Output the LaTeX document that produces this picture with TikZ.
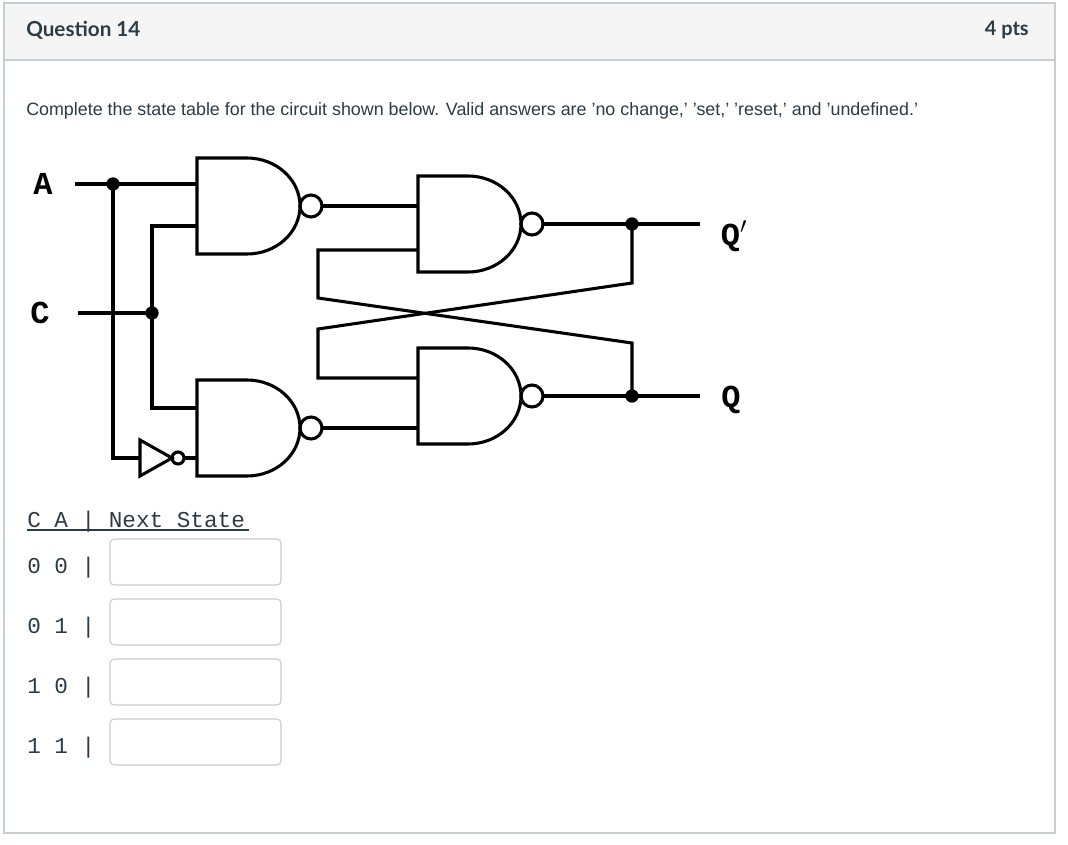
\documentclass[tikz,border=0pt]{standalone}
\usepackage{fontspec}
\setmainfont{Liberation Sans}
\newfontfamily\latofont{Lato}
\newfontfamily\monofont{Liberation Mono}
\definecolor{txt}{HTML}{2D3B45}
\definecolor{bord}{HTML}{C7CDD1}
\definecolor{band}{HTML}{F5F5F5}
\newcommand{\nandgate}[4]{% name, left, top, bottom
  \pgfmathsetmacro{\gm}{#2+50}\pgfmathsetmacro{\gt}{#2+103}%
  \pgfmathsetmacro{\gc}{(#3+#4)/2}\pgfmathsetmacro{\ry}{(#4-#3)/2}%
  \pgfmathsetmacro{\ka}{\gm+0.552*53}\pgfmathsetmacro{\kb}{\gc-0.552*\ry}\pgfmathsetmacro{\kc}{\gc+0.552*\ry}%
  \draw[wire] (#2,#3) -- (\gm,#3) .. controls (\ka,#3) and (\gt,\kb) .. (\gt,\gc)
     .. controls (\gt,\kc) and (\ka,#4) .. (\gm,#4) -- (#2,#4) -- cycle;
  \draw[wire] (\gt+11,\gc) circle[radius=8.25pt];
  \coordinate (#1) at (\gt+22,\gc);}
\begin{document}
\begin{tikzpicture}[x=0.75pt,y=-0.75pt,
  wire/.style={line width=2.3pt,line join=miter,black},
  jdot/.style={circle,fill=black,inner sep=0pt,minimum size=10pt},
  lbl/.style={font=\monofont\bfseries\fontsize{24}{24}\selectfont,inner sep=0pt},
  tbl/.style={font=\monofont\fontsize{17}{17}\selectfont,text=txt,inner sep=0pt,anchor=base west},
  ansbox/.style={draw=bord,rounded corners=3pt,line width=0.8pt}]
\useasboundingbox (0,0) rectangle (1068,845);
\fill[white] (0,0) rectangle (1068,845);
\fill[band] (4,3) rectangle (1055,60);
\draw[bord,line width=0.8pt] (4,3) rectangle (1055,833);
\draw[bord,line width=0.8pt] (4,60) -- (1055,60);
\node[anchor=west,inner sep=0pt,text=txt,font=\latofont\bfseries\fontsize{15.5}{16}\selectfont] (qt) at (26,30) {Question 14};
\node[anchor=east,inner sep=0pt,text=txt,font=\latofont\bfseries\fontsize{15}{16}\selectfont] (pts) at (1029,30) {4 pts};
\node[anchor=west,inner sep=0pt,text=txt,font=\fontsize{13.4}{16}\selectfont] (desc) at (26,111) {Complete the state table for the circuit shown below. Valid answers are 'no change,' 'set,' 'reset,' and 'undefined.'};
% gates
\nandgate{g1}{197}{158}{254}
\nandgate{g2}{418}{176}{272}
\nandgate{g3}{197}{380}{476}
\nandgate{g4}{418}{348}{444}
% labels
\node[lbl] (la) at (43,184) {A};
\node[lbl] (lc) at (40,313) {C};
\node[lbl] (lqp) at (734,236) {Q$'$};
\node[lbl] (lq) at (731,400) {Q};
% A input
\coordinate (ain) at (75,184);
\node[jdot] (da) at (113,184) {};
\draw[wire] (ain) -- (197,184);
\draw[wire] (da.center) -- (113,458) -- (140,458);
\draw[wire] (140,440) -- (140,476) -- (172,458) -- cycle;
\draw[wire] (178,458) circle[radius=4.5pt];
\draw[wire] (184,458) -- (197,458);
% C input
\coordinate (cin) at (78,313);
\node[jdot] (dc) at (152,313) {};
\draw[wire] (cin) -- (dc.center);
\draw[wire] (197,226) -- (152,226) -- (152,408) -- (197,408);
% between gates
\draw[wire] (g1) -- (418,206);
\draw[wire] (g3) -- (418,428);
% outputs
\node[jdot] (dqp) at (632,224) {};
\node[jdot] (dq) at (632,396) {};
\coordinate (oqp) at (700,224);
\coordinate (oq) at (700,396);
\draw[wire] (g2) -- (oqp);
\draw[wire] (g4) -- (oq);
% cross feedback
\draw[wire] (418,250) -- (318,250) -- (318,298) -- (632,343) -- (dq.center);
\draw[wire] (dqp.center) -- (632,283) -- (318,329) -- (318,378) -- (418,378);
% table
\node[tbl] (hdr) at (27,527) {C A |\ Next State};
\draw[txt,line width=0.8pt] (27,530) -- (249,530);
\foreach \r/\a/\b/\y in {1/0/0/566,2/0/1/626,3/1/0/686,4/1/1/746}{
  \node[tbl] (row\r) at (27,\y+7) {\a\ \b\ |};
  \draw[ansbox] (110,\y-27) rectangle (281,\y+19);
}
\end{tikzpicture}
\end{document}
